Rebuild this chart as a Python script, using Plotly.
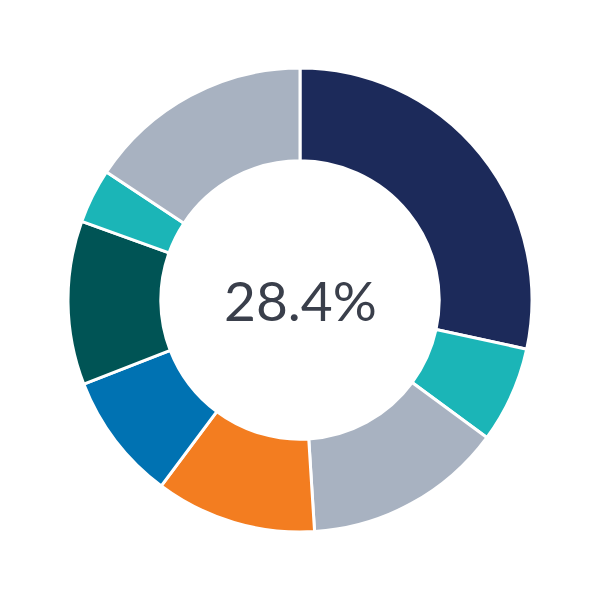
import plotly.graph_objects as go

labels = ["A", "B", "C", "D", "E", "F", "G", "H"]
values = [28.4, 6.7, 13.9, 11.2, 8.9, 11.4, 3.8, 15.7]
colors = ["#1c2a5a", "#1bb5b7", "#a8b2c1", "#f37d20",
          "#0072b2", "#005455", "#1bb5b7", "#a8b2c1"]
center_label = "28.4%"

fig = go.Figure(go.Pie(
    labels=labels,
    values=values,
    hole=0.6,
    sort=False,
    direction="clockwise",
    rotation=0,
    marker=dict(colors=colors, line=dict(color="white", width=3)),
    textinfo="none",
    hoverinfo="label+percent",
    showlegend=False,
))

fig.add_annotation(text=center_label, x=0.5, y=0.5, xref="paper", yref="paper",
                   showarrow=False, font=dict(family="Lato", size=55, color="#3a3f4b"))

# page body has an 8px margin, so shift the plot area up/left to centre it
fig.update_layout(width=600, height=600,
                  margin=dict(l=60, r=76, t=60, b=76),
                  paper_bgcolor="white", plot_bgcolor="white")

fig.write_html("out.html")
